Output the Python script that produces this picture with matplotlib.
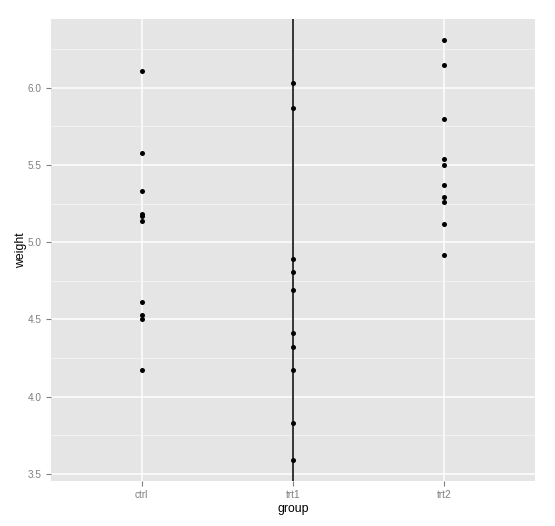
import matplotlib
matplotlib.use("Agg")
import matplotlib.pyplot as plt
import numpy as np

plt.rcParams["font.family"] = ["Liberation Sans", "DejaVu Sans"]

# PlantGrowth data
groups = ["ctrl", "trt1", "trt2"]
ctrl = [4.17, 5.58, 5.18, 6.11, 4.50, 4.61, 5.17, 4.53, 5.33, 5.14]
trt1 = [4.81, 4.17, 4.41, 3.59, 5.87, 3.83, 6.03, 4.89, 4.32, 4.69]
trt2 = [6.31, 5.12, 5.54, 5.50, 5.37, 5.29, 4.92, 6.15, 5.80, 5.26]
weights = [ctrl, trt1, trt2]
vline_group = "trt1"

fig = plt.figure(figsize=(5.55, 5.26), dpi=100)
ax = fig.add_axes([51 / 555, 45 / 526, 484 / 555, 462 / 526])
ax.set_facecolor("#e5e5e5")

# y scale with ggplot-like 5% expansion
all_w = ctrl + trt1 + trt2
lo, hi = min(all_w), max(all_w)
pad = (hi - lo) * 0.05
ax.set_ylim(lo - pad, hi + pad)
ax.set_xlim(0.4, len(groups) + 0.6)

yticks = [3.5, 4.0, 4.5, 5.0, 5.5, 6.0]
minor = [3.75, 4.25, 4.75, 5.25, 5.75, 6.25]
ax.set_yticks(yticks)
ax.set_yticklabels(["%.1f" % v for v in yticks])
ax.set_yticks(minor, minor=True)
ax.set_xticks(range(1, len(groups) + 1))
ax.set_xticklabels(groups)

ax.grid(True, which="major", color="white", linewidth=1.1)
ax.grid(True, which="minor", axis="y", color="#f2f2f2", linewidth=0.7)
ax.set_axisbelow(True)
for s in ax.spines.values():
    s.set_visible(False)

ax.tick_params(which="major", length=3.5, color="#7f7f7f", labelcolor="#7f7f7f",
               labelsize=7.2, width=0.8, pad=3)
ax.tick_params(which="minor", length=0)

for i, w in enumerate(weights):
    ax.scatter([i + 1] * len(w), w, s=13, color="black", zorder=3, linewidths=0)

ax.axvline(groups.index(vline_group) + 1, color="black", linewidth=1.1, zorder=2)

ax.set_xlabel("group", fontsize=8.8, labelpad=2)
ax.set_ylabel("weight", fontsize=8.8, labelpad=1)

fig.savefig("out.png", dpi=100)
